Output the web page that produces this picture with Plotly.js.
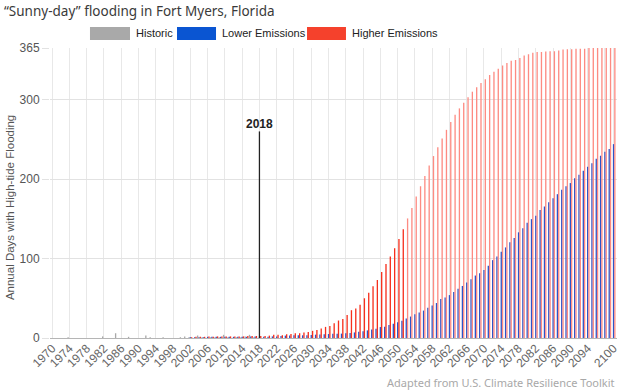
<!DOCTYPE html>
<html>
<head>
<meta charset="utf-8">
<script src="https://cdn.plot.ly/plotly-3.0.1.min.js"></script>
<style>
  body { margin: 0; background: #fff; }
  #graph { width: 620px; height: 392px; }
</style>
</head>
<body>
<div id="graph"></div>
<script>
// historic observations 1970-2018
var histStart = 1970;
var historic = [0, 0, 0, 0, 1, 0, 0, 0, 0, 0,
                0, 0, 2, 0, 0, 6, 0, 0, 1.5, 0,
                0, 0, 3, 1, 0, 0, 1, 0, 0, 0,
                1, 2, 1, 0, 3, 1, 0, 1, 1, 1,
                4, 1, 0, 1, 1, 2, 4, 1, 0];

// projections 2002-2100
var projStart = 2002;
var lowerEm = [1, 1, 1, 1, 1.5, 1.5, 1.5, 1.5, 1.5, 1.5, 1.5, 1.5, 1.5, 1.5, 2, 2,
               1.7, 1.7, 1.7, 2, 2, 2.5, 3, 3, 3.4, 3.4,
               3.4, 3.6, 3.8, 4.2, 4.4, 4.8, 5, 5.2, 5.5, 5.5,
               6, 6.3, 7, 8, 8.6, 9.6, 10.6, 11.5, 13.8, 14.3,
               16.4, 17.8, 19.8, 21.6, 24.4, 27, 30, 32, 34.5, 38, 41, 44,
               49, 51, 54, 58, 62, 65.5, 70, 74, 78.6, 81.5, 85.7, 91,
               98, 102.5, 108.4, 114, 120.6, 126, 133, 138, 145, 149.6,
               154, 161, 165.5, 171, 176, 181, 186.5, 191, 195, 201,
               205.5, 210.5, 215.5, 220, 225.6, 229.4, 234.5, 238, 244];
var higherEm = [1, 1.5, 1.5, 1.5, 2, 1.5, 2, 2, 2, 2, 2, 2, 2, 2.5, 2.5, 2.5,
                2.5, 2.5, 3, 4, 4, 3.5, 4.6, 5, 6, 6,
                7, 7.5, 9, 10, 12, 14, 15, 18.5, 22, 24,
                29, 35, 37, 42, 50, 57, 65, 73, 83, 93,
                102.5, 113, 124.5, 137, 150.5, 163.5, 178, 191, 204, 217, 229, 240,
                251, 262, 272, 281, 289, 296, 303, 310, 315.5, 321, 325.6, 331,
                335, 339, 343, 346, 349, 350, 352.5, 355.5, 357, 359,
                360, 360, 360.5, 361, 361, 362, 363, 363.4, 363.4, 364,
                364, 364, 365, 365, 365, 365, 365, 365, 365];

var markYear = 2018;
var markTop = 260;

var tickYears = [];
var tickLabels = [];
for (var y = 1970; y <= 2098; y += 4) {
  tickYears.push(y);
  tickLabels.push(y == 2098 ? '' : String(y));
}
tickYears.push(2100);
tickLabels.push('2100');

var histYears = historic.map(function (v, i) { return histStart + i; });
var projYears = lowerEm.map(function (v, i) { return projStart + i; });

// the high scenario bars go pale after mid-century
var redCols = projYears.map(function (yr) { return yr < 2052 ? '#f62f1c' : '#fd8b82'; });

var trace1 = {
  x: histYears, y: historic, type: 'bar', name: 'Historic',
  marker: {color: '#a9a9a9'}
};
var trace2 = {
  x: projYears, y: lowerEm, type: 'bar', name: 'Lower Emissions',
  marker: {color: '#2f53c6'}
};
var trace3 = {
  x: projYears, y: higherEm, type: 'bar', name: 'Higher Emissions',
  marker: {color: redCols}
};

var txt = 'Liberation Sans, Arial, sans-serif';

var layout = {
  width: 620, height: 392,
  margin: {l: 50, r: 3, t: 48, b: 54},
  paper_bgcolor: '#fff', plot_bgcolor: '#fff',
  barmode: 'group', bargap: 0.08, bargroupgap: 0,
  showlegend: false,
  font: {family: txt, size: 11, color: '#555'},
  xaxis: {
    range: [1969.5, 2100.8],
    tickvals: tickYears, ticktext: tickLabels,
    tickangle: -45, ticklabeloverflow: 'allow',
    showgrid: true, gridcolor: '#e8e8e8',
    zeroline: false, showline: false, ticks: '',
    tickfont: {family: txt, size: 12, color: '#666'}
  },
  yaxis: {
    range: [0, 365],
    tickvals: [0, 100, 200, 300, 365],
    showgrid: true, gridcolor: '#e2e2e2',
    zeroline: true, zerolinecolor: '#b5b5b5', zerolinewidth: 1,
    ticks: 'outside', ticklen: 7, tickcolor: '#e2e2e2',
    tickfont: {family: txt, size: 12, color: '#555'}
  },
  shapes: [
    {type: 'line', xref: 'x', yref: 'y', x0: markYear, x1: markYear, y0: 0, y1: markTop,
     line: {color: '#222', width: 1.3}},
    // legend swatches
    {type: 'rect', xref: 'paper', yref: 'paper', x0: 0.0705, x1: 0.1411, y0: 1.0276, y1: 1.0724,
     fillcolor: '#a9a9a9', line: {width: 0}},
    {type: 'rect', xref: 'paper', yref: 'paper', x0: 0.224, x1: 0.2928, y0: 1.0276, y1: 1.0724,
     fillcolor: '#0a55d2', line: {width: 0}},
    {type: 'rect', xref: 'paper', yref: 'paper', x0: 0.4533, x1: 0.522, y0: 1.0276, y1: 1.0724,
     fillcolor: '#f5412c', line: {width: 0}}
  ],
  annotations: [
    {text: '<b>' + markYear + '</b>', xref: 'x', yref: 'y', x: markYear, y: markTop,
     yanchor: 'bottom', showarrow: false, yshift: -2,
     font: {family: txt, size: 12, color: '#222'}},
    {text: 'Historic', xref: 'paper', yref: 'paper', x: 0.1481, y: 1.05,
     xanchor: 'left', yanchor: 'middle', showarrow: false,
     font: {family: txt, size: 11, color: '#222'}},
    {text: 'Lower Emissions', xref: 'paper', yref: 'paper', x: 0.2998, y: 1.05,
     xanchor: 'left', yanchor: 'middle', showarrow: false,
     font: {family: txt, size: 11, color: '#222'}},
    {text: 'Higher Emissions', xref: 'paper', yref: 'paper', x: 0.5291, y: 1.05,
     xanchor: 'left', yanchor: 'middle', showarrow: false,
     font: {family: txt, size: 11, color: '#222'}},
    {text: 'Annual Days with High-tide Flooding', xref: 'paper', yref: 'paper',
     x: -0.0705, y: 0.448, textangle: -90, showarrow: false,
     xanchor: 'center', yanchor: 'middle',
     font: {family: txt, size: 11.5, color: '#555'}},
    {text: '“Sunny-day” flooding in Fort Myers, Florida', xref: 'paper', yref: 'paper',
     x: -0.085, y: 1.128, xanchor: 'left', yanchor: 'middle', showarrow: false,
     font: {family: 'Noto Sans, sans-serif', size: 13.5, color: '#3a3a3a'}},
    {text: 'Adapted from U.S. Climate Resilience Toolkit', xref: 'paper', yref: 'paper',
     x: 1.0, y: -0.155, xanchor: 'right', yanchor: 'middle', showarrow: false,
     font: {family: 'Noto Sans, sans-serif', size: 11, color: '#a8a8a8'}}
  ]
};

Plotly.newPlot('graph', [trace1, trace2, trace3], layout, {staticPlot: true, displayModeBar: false});
</script>
</body>
</html>
